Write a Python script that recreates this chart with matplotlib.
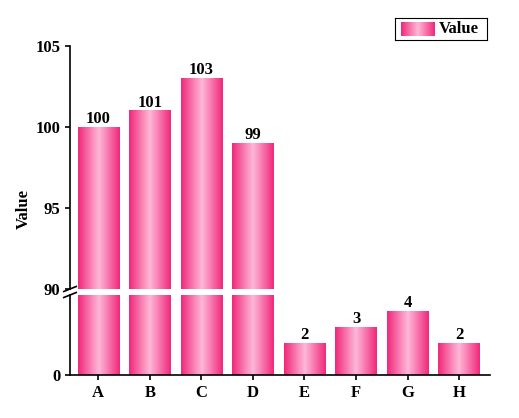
import matplotlib
matplotlib.use("Agg")
import matplotlib.pyplot as plt
import numpy as np
from matplotlib.colors import LinearSegmentedColormap

categories = ["A", "B", "C", "D", "E", "F", "G", "H"]
values = [100, 101, 103, 99, 2, 3, 4, 2]

plt.rcParams['font.family'] = ['Liberation Serif', 'DejaVu Serif']
plt.rcParams['font.weight'] = 'bold'

fig = plt.figure(figsize=(5.19, 4.18), dpi=100)
L, R = 70/519, 490/519
ax_top = fig.add_axes([L, 1-289/418, R-L, (289-46)/418])
ax_bot = fig.add_axes([L, 1-375/418, R-L, (375-295)/418])

cmap = LinearSegmentedColormap.from_list("pk", ["#F0287A", "#FFB8D8", "#F0287A"])
grad = np.linspace(0, 1, 256).reshape(1, -1)
x = np.arange(len(categories))
for ax, (lo, hi) in ((ax_top, (90, 105)), (ax_bot, (0, 5))):
    bars = ax.bar(x, values, width=0.8, color="none", edgecolor="none")
    for b in bars:
        x0 = b.get_x()
        top = min(b.get_height(), hi)
        if top <= lo:
            continue
        ax.imshow(grad, cmap=cmap, aspect="auto",
                  extent=[x0, x0 + b.get_width(), lo, top], zorder=2)
    ax.set_xlim(-0.55, 7.6)
    ax.set_ylim(lo, hi)
    ax.spines['top'].set_visible(False)
    ax.spines['right'].set_visible(False)
    ax.tick_params(direction='out', labelsize=12, width=1.2)
    for s in ax.spines.values():
        s.set_linewidth(1.2)

ax_top.set_yticks([90, 95, 100, 105])
ax_top.spines['bottom'].set_visible(False)
ax_top.tick_params(axis='x', bottom=False, labelbottom=False)
ax_bot.set_yticks([0])
ax_bot.set_xticks(x)
ax_bot.set_xticklabels(categories)

for i, v in enumerate(values):
    ax = ax_top if v > 50 else ax_bot
    ax.text(i, v, str(v), ha='center', va='bottom', fontsize=12, fontweight='bold', zorder=5)

fig.text(0.045, 0.5, "Value", rotation=90, ha='center', va='center', fontsize=12, fontweight='bold')

d = 0.012
for yy in (1 - 289/418, 1 - 295/418):
    fig.add_artist(plt.Line2D([L - d, L + d], [yy - 0.006, yy + 0.006], color='k', lw=1.2))

lax = fig.add_axes([395/519, 1-40/418, 92/519, 22/418])
lax.imshow(grad, cmap=cmap, aspect='auto', extent=[6, 40, 4, 18])
lax.set_xlim(0, 92); lax.set_ylim(0, 22)
lax.set_xticks([]); lax.set_yticks([])
lax.text(44, 11, "Value", va='center', ha='left', fontsize=12, fontweight='bold')

fig.savefig("out.png", dpi=100)
